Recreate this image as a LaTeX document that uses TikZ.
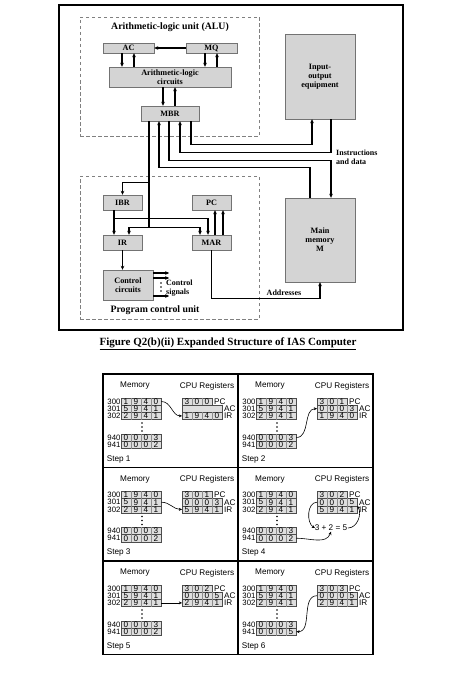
\documentclass[tikz,border=0pt]{standalone}
\usepackage{fontspec}
\setmainfont{Liberation Serif}
\setsansfont{Liberation Sans}
\usetikzlibrary{arrows.meta}

\definecolor{boxgray}{HTML}{D4D4D4}
\definecolor{wordgray}{HTML}{DEDEDE}

% one memory word or register, split in digit cells
\newcommand{\regword}[4]{%
  \node[wordbox, minimum width=#3*10, anchor=west] (#1) at (#2) {};
  \edef\digitlist{#4}%
  \foreach \d [count=\k] in \digitlist {
    \ifnum\k>1 \draw[cellsep] ([xshift=\k*10-10]#1.north west) -- ([xshift=\k*10-10]#1.south west);\fi
    \node[digit] at ([xshift=\k*10-5]#1.west) {\d};
  }}

\begin{document}
\begin{tikzpicture}[x=1pt, y=-1pt,
  unit/.style={draw=black!55, fill=boxgray, align=center, inner sep=0pt,
               font=\bfseries\fontsize{8.2}{9}\selectfont},
  group/.style={draw=black!50, line width=0.9pt, dash pattern=on 3.5pt off 2.5pt,
                inner sep=0pt},
  title/.style={font=\bfseries\fontsize{9.8}{11}\selectfont},
  note/.style={font=\bfseries\fontsize{8}{8.8}\selectfont, align=left, inner sep=0pt},
  flow/.style={-{Stealth[length=4pt, width=3.6pt]}, line width=1.1pt},
  link/.style={line width=1.1pt},
  wordbox/.style={draw=black!70, fill=wordgray, minimum height=7.2, inner sep=0pt},
  cellsep/.style={draw=black!45, line width=0.3pt},
  digit/.style={font=\sffamily\fontsize{8.2}{8.5}\selectfont, inner sep=0pt},
  plabel/.style={font=\sffamily\fontsize{8.2}{9}\selectfont, inner sep=0.6pt},
  addr/.style={font=\sffamily\fontsize{7.8}{8}\selectfont, inner sep=0.3pt, anchor=east},
  parrow/.style={-{Stealth[length=3.2pt, width=3pt]}, line width=0.6pt}]
  \useasboundingbox (0,0) rectangle (474,677);

  % upper figure
  \draw[line width=1.3pt] (59,5) rectangle (403,330);
  \node[group, minimum width=179, minimum height=119] (alu) at (169.5,76.5) {};
  \node[group, minimum width=179, minimum height=143] (pcu) at (169.5,247.5) {};
  \node[title] (alutitle) at (170,27) {Arithmetic-logic unit (ALU)};
  \node[title] (pcutitle) at (155,310) {Program control unit};

  \node[unit, minimum width=51, minimum height=10] (ac) at (128.5,48) {AC};
  \node[unit, minimum width=51, minimum height=10] (mq) at (211.5,48) {MQ};
  \node[unit, minimum width=122, minimum height=20] (alc) at (170,77)
    {Arithmetic-logic\\circuits};
  \node[unit, minimum width=58, minimum height=15] (mbr) at (170,113.5) {MBR};
  \node[unit, minimum width=70, minimum height=85] (io) at (320,76.5)
    {Input-\\output\\equipment};
  \node[unit, minimum width=70, minimum height=84] (mm) at (320,240)
    {Main\\memory\\M};
  \node[unit, minimum width=39, minimum height=15] (ibr) at (122.5,202.5) {IBR};
  \node[unit, minimum width=39, minimum height=15] (pc) at (211.5,202.5) {PC};
  \node[unit, minimum width=39, minimum height=15] (ir) at (122.5,242.5) {IR};
  \node[unit, minimum width=39, minimum height=15] (mar) at (211.5,242.5) {MAR};
  \node[unit, minimum width=50, minimum height=30] (cc) at (128,285)
    {Control\\circuits};

  \draw[flow] (mq.west) -- (ac.east);
  \draw[flow] ([xshift=-6.5]ac.south) -- ([xshift=-6.5]ac.south |- alc.north);
  \draw[flow] ([xshift=5.5]ac.south |- alc.north) -- ([xshift=5.5]ac.south);
  \draw[flow] ([xshift=-6.5]mq.south) -- ([xshift=-6.5]mq.south |- alc.north);
  \draw[flow] ([xshift=5.5]mq.south |- alc.north) -- ([xshift=5.5]mq.south);
  \draw[flow] ([xshift=-7]alc.south) -- ([xshift=-7]mbr.north);
  \draw[flow] ([xshift=5]mbr.north) -- ([xshift=5]alc.south);

  \draw[flow] ([xshift=21]mbr.south) -- ++(0,23) -| ([xshift=-8]io.south);
  \draw[flow] ([xshift=11]io.south) -- ++(0,33) -| ([xshift=10]mbr.south);
  \draw[flow] ([xshift=-1]mbr.south) -- ++(0,39) -| ([xshift=11]mm.north);
  \draw[flow] ([xshift=-10]mm.north) -- ++(0,-30) -| ([xshift=-11]mbr.south);
  \node[note, anchor=west] (instr) at (336,157) {Instructions\\and data};

  \draw[link] ([xshift=-21]mbr.south) -- ++(0,106) coordinate (split);
  \draw[flow] ([xshift=-21]mbr.south) ++(0,61) -| (ibr.north);
  \draw[flow] (split) -| ([xshift=6.5]ir.north);
  \draw[flow] (split) -| ([xshift=-11.5]mar.north);
  \draw[flow] ([xshift=-8.5]ibr.south) -- ([xshift=-8.5]ir.north);
  \draw[flow] ([xshift=-8.5]ibr.south) ++(0,8) -| ([xshift=-3.5]mar.north);
  \draw[flow] ([xshift=3.5]mar.north) -- ([xshift=3.5]pc.south);
  \draw[flow] ([xshift=11.5]mar.north) -- ([xshift=11.5]pc.south);
  \draw[flow] (ir.south) -- (ir.south |- cc.north);
  \draw[flow] ([yshift=12]cc.east) -- ++(16,0);
  \draw[flow] ([yshift=7]cc.east) -- ++(16,0);
  \draw[flow] ([yshift=-11]cc.east) -- ++(16,0);
  \foreach \dy in {283,287,291} \fill (161,\dy) circle (0.8);
  \node[note, anchor=west] (signals) at (166,288) {Control\\signals};
  \draw[flow] (mar.south) -- ++(0,48) -| (mm.south);
  \node[note] (addrs) at (284,293) {Addresses};

  \node[font=\bfseries\fontsize{11}{13}\selectfont] (caption) at (228,344)
    {\underline{Figure Q2(b)(ii) Expanded Structure of IAS Computer}};

  % lower figure: six steps
  \draw[line width=1.3pt] (103,374) rectangle (373,654.5);
  \draw[line width=1.1pt] (238,374) -- (238,654.5);
  \draw[line width=1.1pt] (103,467.5) -- (373,467.5);
  \draw[line width=1.1pt] (103,561) -- (373,561);

  \foreach \n/\px/\py/\vpc/\vac/\vir/\vlast in {
      1/103/374/{3,0,0}/{}/{1,9,4,0}/{0,0,0,2},
      2/238/374/{3,0,1}/{0,0,0,3}/{1,9,4,0}/{0,0,0,2},
      3/103/467.5/{3,0,1}/{0,0,0,3}/{5,9,4,1}/{0,0,0,2},
      4/238/467.5/{3,0,2}/{0,0,0,5}/{5,9,4,1}/{0,0,0,2},
      5/103/561/{3,0,2}/{0,0,0,5}/{2,9,4,1}/{0,0,0,2},
      6/238/561/{3,0,3}/{0,0,0,5}/{2,9,4,1}/{0,0,0,5}} {
    \begin{scope}[shift={(\px,\py)}]
      \node[plabel] (mem-\n) at (32,12) {Memory};
      \node[plabel] (cpu-\n) at (104,12) {CPU Registers};
      \foreach \a/\ry in {300/27.5,301/34.7,302/41.9,940/63.5,941/70.7}
        \node[addr] (a\a-\n) at (18,\ry) {\a};
      \regword{m300-\n}{18,27.5}{4}{1,9,4,0}
      \regword{m301-\n}{18,34.7}{4}{5,9,4,1}
      \regword{m302-\n}{18,41.9}{4}{2,9,4,1}
      \regword{m940-\n}{18,63.5}{4}{0,0,0,3}
      \regword{m941-\n}{18,70.7}{4}{\vlast}
      \foreach \dy in {49,53,57} \fill (39,\dy) circle (0.8);
      \regword{pc-\n}{79,27.5}{3}{\vpc}
      \regword{ac-\n}{79,34.7}{4}{\vac}
      \regword{ir-\n}{79,41.9}{4}{\vir}
      \node[plabel, anchor=west] (pcl-\n) at ([xshift=1]pc-\n.east) {PC};
      \node[plabel, anchor=west] (acl-\n) at ([xshift=1]ac-\n.east) {AC};
      \node[plabel, anchor=west] (irl-\n) at ([xshift=1]ir-\n.east) {IR};
      \node[plabel, anchor=west] (step-\n) at (3,85) {Step \n};
    \end{scope}
  }

  \draw[parrow] (m300-1.east) to[out=0, in=180] (ir-1.west);
  \draw[parrow] (m940-2.east) to[out=0, in=180] (ac-2.west);
  \draw[parrow] (m301-3.east) to[out=0, in=180] (ir-3.west);
  \node[plabel] (sum) at (331,528) {3 + 2 = 5};
  \draw[parrow] (ac-4.west) to[out=180, in=150] ([xshift=1]sum.west);
  \draw[parrow] (m941-4.east) to[out=0, in=-110] (sum.south);
  \draw[parrow] (sum.east) to[out=0, in=-60] (ac-4.south east);
  \draw[parrow] (m302-5.east) -- (ir-5.west);
  \draw[parrow] (ac-6.west) to[out=180, in=0] (m941-6.east);
\end{tikzpicture}
\end{document}
